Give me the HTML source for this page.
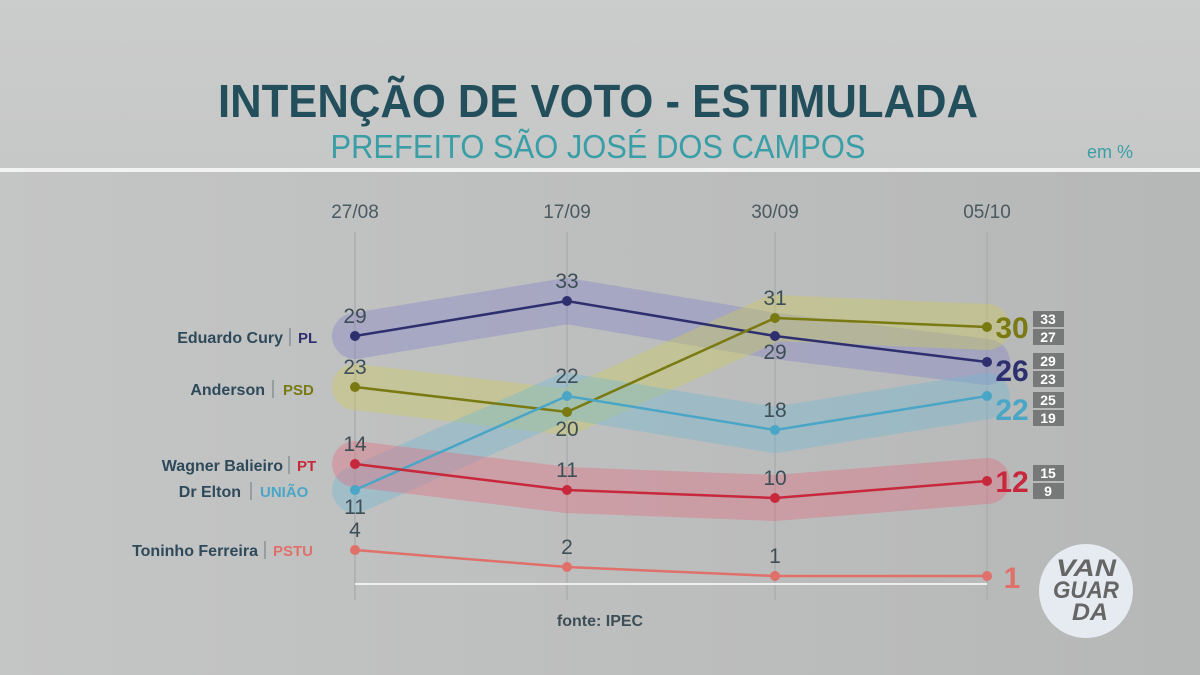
<!DOCTYPE html>
<html><head><meta charset="utf-8"><style>
html,body{margin:0;padding:0;width:1200px;height:675px;overflow:hidden}
body{background:linear-gradient(180deg,#cbcccc 0%,#c3c4c4 40%,#b8b9b9 100%)}
svg{position:absolute;left:0;top:0}
text{font-family:"Liberation Sans",sans-serif}
</style></head><body>
<svg width="1200" height="675" viewBox="0 0 1200 675">
<defs><linearGradient id="bg2" x1="0" x2="1"><stop offset="0" stop-color="#c4c5c5"/><stop offset="1" stop-color="#b6b7b7"/></linearGradient></defs>
<rect x="0" y="172" width="1200" height="503" fill="url(#bg2)"/>
<rect x="0" y="168" width="1200" height="4" fill="#f2f2f2"/>
<text x="598" y="117" text-anchor="middle" font-size="46" font-weight="bold" fill="#234f5c" textLength="760" lengthAdjust="spacingAndGlyphs">INTENÇÃO DE VOTO - ESTIMULADA</text>
<text x="598" y="158" text-anchor="middle" font-size="33" fill="#3a9ea6" textLength="535" lengthAdjust="spacingAndGlyphs">PREFEITO SÃO JOSÉ DOS CAMPOS</text>
<text x="1110" y="158" text-anchor="middle" font-size="18" fill="#3a9ea6">em %</text>
<g font-size="19" fill="#4a5a60" text-anchor="middle">
<text x="355" y="218">27/08</text><text x="567" y="218">17/09</text><text x="775" y="218">30/09</text><text x="987" y="218">05/10</text></g>
<g stroke="#a8a9a9" stroke-width="1.2">
<line x1="355" y1="232" x2="355" y2="600"/><line x1="567" y1="232" x2="567" y2="600"/><line x1="775" y1="232" x2="775" y2="600"/><line x1="987" y1="232" x2="987" y2="600"/></g>
<line x1="355" y1="584" x2="987" y2="584" stroke="#eeeeee" stroke-width="2"/>
<g fill="none" stroke-width="46" stroke-linecap="round" stroke-linejoin="round">
<polyline points="355,336 567,301 775,336 987,362" stroke="rgba(130,130,200,0.38)"/>
<polyline points="355,387 567,412 775,318 987,327" stroke="rgba(205,205,90,0.38)"/>
<polyline points="355,490 567,396 775,430 987,396" stroke="rgba(110,185,210,0.38)"/>
<polyline points="355,464 567,490 775,498 987,481" stroke="rgba(225,105,125,0.38)"/>
</g>
<g fill="none" stroke-width="2.5">
<polyline points="355,336 567,301 775,336 987,362" stroke="#2e2f6e"/>
<polyline points="355,387 567,412 775,318 987,327" stroke="#7a7a12"/>
<polyline points="355,490 567,396 775,430 987,396" stroke="#4aa6c6"/>
<polyline points="355,464 567,490 775,498 987,481" stroke="#c8283c"/>
<polyline points="355,550 567,567 775,576 987,576" stroke="#e0706a"/>
</g>
<g fill="#2e2f6e"><circle cx="355" cy="336" r="5"/><circle cx="567" cy="301" r="5"/><circle cx="775" cy="336" r="5"/><circle cx="987" cy="362" r="5"/></g>
<g fill="#7a7a12"><circle cx="355" cy="387" r="5"/><circle cx="567" cy="412" r="5"/><circle cx="775" cy="318" r="5"/><circle cx="987" cy="327" r="5"/></g>
<g fill="#4aa6c6"><circle cx="355" cy="490" r="5"/><circle cx="567" cy="396" r="5"/><circle cx="775" cy="430" r="5"/><circle cx="987" cy="396" r="5"/></g>
<g fill="#c8283c"><circle cx="355" cy="464" r="5"/><circle cx="567" cy="490" r="5"/><circle cx="775" cy="498" r="5"/><circle cx="987" cy="481" r="5"/></g>
<g fill="#e0706a"><circle cx="355" cy="550" r="5"/><circle cx="567" cy="567" r="5"/><circle cx="775" cy="576" r="5"/><circle cx="987" cy="576" r="5"/></g>
<g font-size="21" fill="#3e4e56" text-anchor="middle">
<text x="355" y="323">29</text><text x="567" y="288">33</text><text x="775" y="359">29</text>
<text x="355" y="374">23</text><text x="567" y="436">20</text><text x="775" y="305">31</text>
<text x="355" y="514">11</text><text x="567" y="383">22</text><text x="775" y="417">18</text>
<text x="355" y="451">14</text><text x="567" y="477">11</text><text x="775" y="485">10</text>
<text x="355" y="537">4</text><text x="567" y="554">2</text><text x="775" y="563">1</text>
</g>
<g font-size="30" font-weight="bold" text-anchor="middle">
<text x="1012" y="338" fill="#7a7a12">30</text>
<text x="1012" y="381" fill="#2e2f6e">26</text>
<text x="1012" y="420" fill="#4aa6c6">22</text>
<text x="1012" y="492" fill="#c8283c">12</text>
<text x="1012" y="588" fill="#e0706a">1</text>
</g>
<g fill="#777878"><rect x="1033" y="311" width="31" height="16"/><rect x="1033" y="329" width="31" height="16"/>
<rect x="1033" y="353" width="31" height="16"/><rect x="1033" y="371" width="31" height="16"/>
<rect x="1033" y="392" width="31" height="16"/><rect x="1033" y="410" width="31" height="16"/>
<rect x="1033" y="465" width="31" height="16"/><rect x="1033" y="483" width="31" height="16"/></g>
<g font-size="14" font-weight="bold" fill="#fff" text-anchor="middle">
<text x="1048" y="324">33</text><text x="1048" y="342">27</text><text x="1048" y="366">29</text><text x="1048" y="384">23</text>
<text x="1048" y="405">25</text><text x="1048" y="423">19</text><text x="1048" y="478">15</text><text x="1048" y="496">9</text></g>
<g font-size="16" font-weight="bold" fill="#2e4a5a" text-anchor="end">
<text x="283" y="343">Eduardo Cury</text><text x="265" y="395">Anderson</text><text x="283" y="471">Wagner Balieiro</text><text x="241" y="497">Dr Elton</text><text x="258" y="556">Toninho Ferreira</text></g>
<g stroke="#6a7a80" stroke-width="1"><line x1="290" y1="328" x2="290" y2="346"/><line x1="273" y1="380" x2="273" y2="398"/><line x1="289" y1="456" x2="289" y2="474"/><line x1="251" y1="482" x2="251" y2="500"/><line x1="265" y1="541" x2="265" y2="559"/></g>
<g font-size="15" font-weight="bold">
<text x="298" y="343" fill="#2e2f6e">PL</text><text x="283" y="395" fill="#7a7a12">PSD</text><text x="297" y="471" fill="#c8283c">PT</text><text x="260" y="497" fill="#4aa6c6">UNIÃO</text><text x="273" y="556" fill="#e0706a">PSTU</text></g>
<text x="600" y="626" text-anchor="middle" font-size="16" font-weight="bold" fill="#3e4e56">fonte: IPEC</text>
<circle cx="1086" cy="591" r="47" fill="#e6ebf2"/>
<g font-size="24" font-weight="bold" fill="#666" text-anchor="middle" font-style="italic">
<text x="1086" y="576" textLength="60" lengthAdjust="spacingAndGlyphs">VAN</text>
<text x="1086" y="598" textLength="66" lengthAdjust="spacingAndGlyphs">GUAR</text>
<text x="1090" y="620" textLength="36" lengthAdjust="spacingAndGlyphs">DA</text></g>
</svg>
</body></html>
